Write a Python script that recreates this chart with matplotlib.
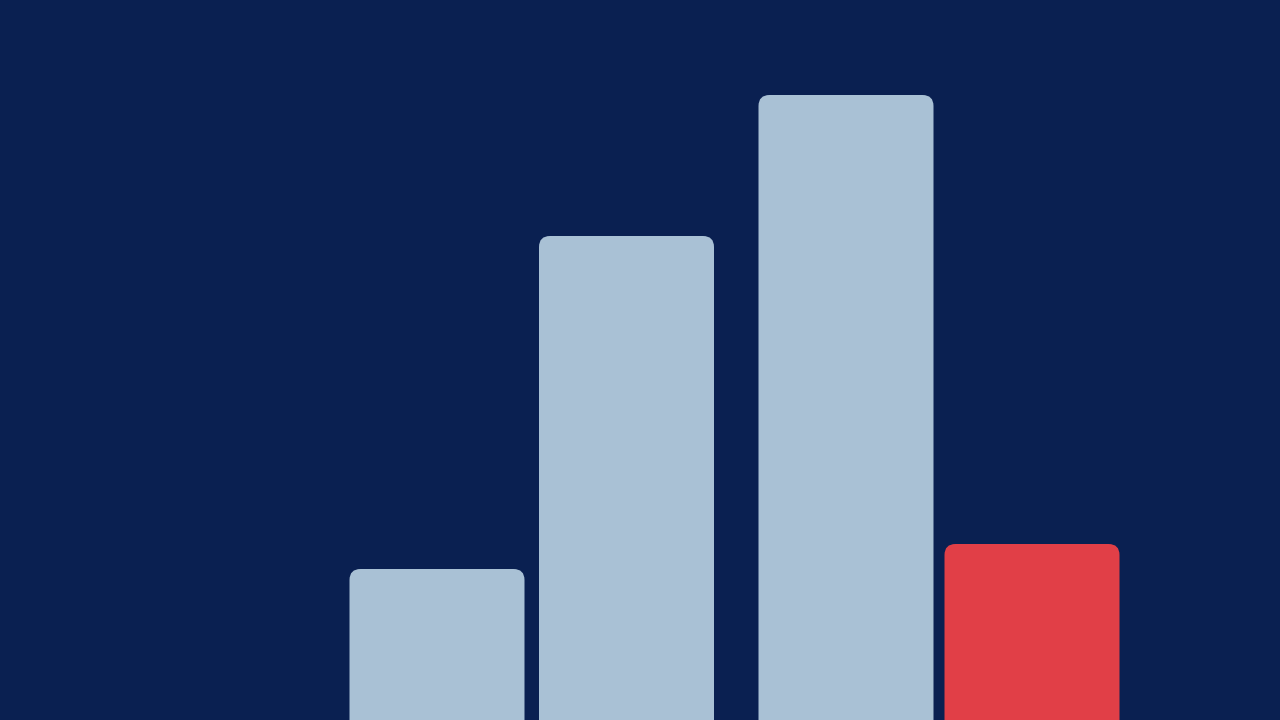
import matplotlib.pyplot as plt
from matplotlib.patches import FancyBboxPatch

# bar data (heights above the bottom edge, in the chart's own units)
categories = ['A', 'B', 'C', 'D']
positions = [437, 626.5, 846, 1032]
values = [151, 484, 625, 176]
bar_colors = ['#a9c1d5', '#a9c1d5', '#a9c1d5', '#e13f47']

BG = '#0a2051'

fig = plt.figure(figsize=(12.8, 7.2), dpi=100, facecolor=BG)
ax = fig.add_axes([0, 0, 1, 1])
ax.set_facecolor(BG)
ax.set_xlim(0, 1280)
ax.set_ylim(0, 720)

bars = ax.bar(positions, values, width=175, bottom=0, color=bar_colors)

# swap plain rectangles for rounded ones that run off the bottom edge
for bar in bars:
    x, w, h = bar.get_x(), bar.get_width(), bar.get_height()
    bar.set_visible(False)
    r = 11
    patch = FancyBboxPatch((x + r, -40 + r), w - 2 * r, h + 40 - 2 * r,
                           boxstyle='round,pad=%d' % r,
                           facecolor=bar.get_facecolor(), edgecolor='none')
    ax.add_patch(patch)

ax.axis('off')
plt.savefig('out.png', facecolor=BG)
